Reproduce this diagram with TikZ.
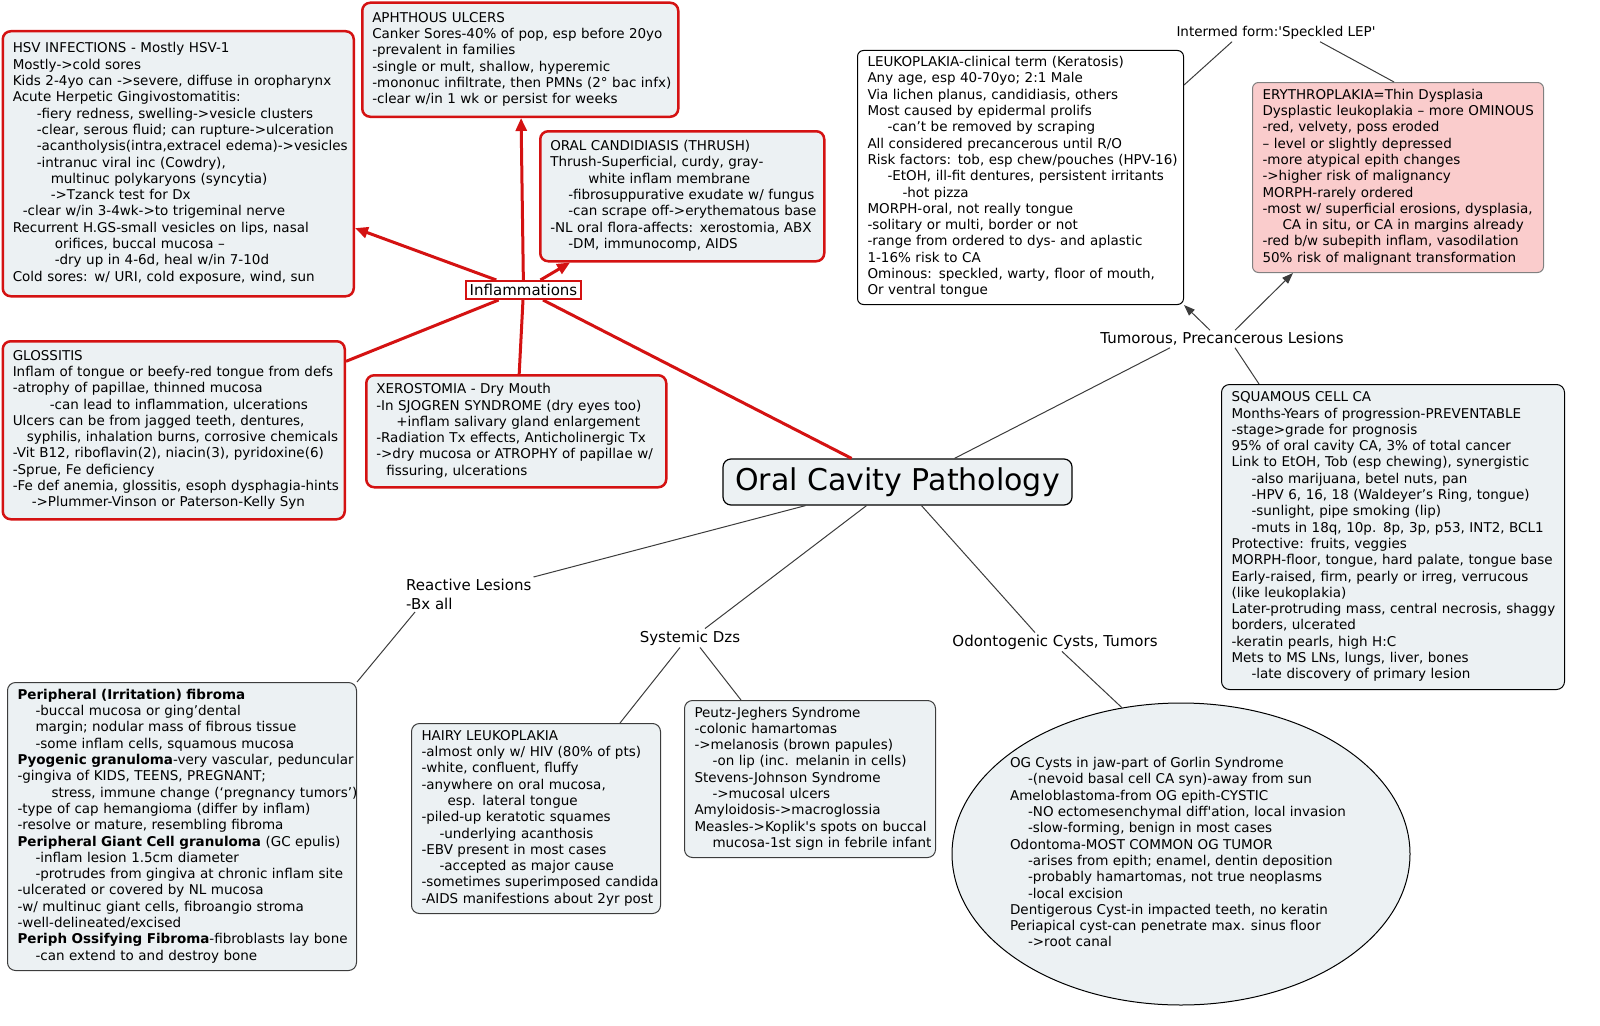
\documentclass[tikz,border=0pt]{standalone}
\usepackage{fontspec}
\setmainfont{DejaVu Sans}[Ligatures=TeXOff]
\usetikzlibrary{shapes.geometric,arrows.meta}

\definecolor{boxfill}{RGB}{236,241,243}
\definecolor{mapred}{RGB}{212,18,18}
\definecolor{pinkfill}{RGB}{250,204,204}
\definecolor{linegray}{RGB}{60,60,60}

\newcommand{\ind}[1]{\hspace*{#1pt}}
\newcommand{\boxlines}[1]{\begin{tabular}{@{}l@{}}#1\end{tabular}}

\begin{document}
\begin{tikzpicture}[x=1pt, y=-1pt,
            redbox/.style={draw=mapred, line width=2.5pt, fill=boxfill, rounded corners=8pt, anchor=north west, inner xsep=10pt, inner ysep=0pt, font=\fontsize{13.5}{16.3}\selectfont},
            greybox/.style={draw=linegray, line width=1pt, fill=boxfill, rounded corners=8pt, anchor=north west, inner xsep=10pt, inner ysep=0pt, font=\fontsize{13.5}{16.3}\selectfont},
            branch/.style={font=\fontsize{15}{19}\selectfont, inner sep=2pt, align=left},
            redline/.style={draw=mapred, line width=3pt},
            redarrow/.style={redline, -{Triangle[length=13pt,width=11pt]}},
            link/.style={draw=linegray, line width=1pt},
            linkarrow/.style={link, -{Triangle[length=11pt,width=8pt]}}
        ]
\useasboundingbox (0,0) rectangle (1600,1025);

% Centre of the map
            \node (oral) [draw=black, line width=1.2pt, fill=boxfill, rounded corners=8pt, minimum width=349, minimum height=46, inner sep=0pt, font=\fontsize{30}{36}\selectfont] at (897.5,482) {Oral Cavity Pathology};

% Inflammations branch (red)
            \node (inflam) [draw=mapred, line width=2pt, fill=white, minimum width=115, minimum height=18, inner xsep=2pt, inner ysep=0pt, font=\fontsize{15}{18}\selectfont] at (523.5,290) {Inflammations};

            \node (hsv) [redbox, text width=331, minimum height=265] at (1.5,30) {\boxlines{HSV INFECTIONS - Mostly HSV-1\\
Mostly->cold sores\\
Kids 2-4yo can ->severe, diffuse in oropharynx\\
Acute Herpetic Gingivostomatitis:\\
\ind{24}-fiery redness, swelling->vesicle clusters\\
\ind{24}-clear, serous fluid; can rupture->ulceration\\
\ind{24}-acantholysis(intra,extracel edema)->vesicles\\
\ind{24}-intranuc viral inc (Cowdry),\\
\ind{38}multinuc polykaryons (syncytia)\\
\ind{38}->Tzanck test for Dx\\
\ind{10}-clear w/in 3-4wk->to trigeminal nerve\\
Recurrent H.GS-small vesicles on lips, nasal\\
\ind{42}orifices, buccal mucosa –\\
\ind{42}-dry up in 4-6d, heal w/in 7-10d\\
Cold sores: w/ URI, cold exposure, wind, sun}};

            \node (aph) [redbox, text width=296, minimum height=114] at (361,1.5) {\boxlines{APHTHOUS ULCERS\\
Canker Sores-40\% of pop, esp before 20yo\\
-prevalent in families\\
-single or mult, shallow, hyperemic\\
-mononuc infiltrate, then PMNs (2° bac infx)\\
-clear w/in 1 wk or persist for weeks}};

            \node (cand) [redbox, text width=264, minimum height=130] at (539,130) {\boxlines{ORAL CANDIDIASIS (THRUSH)\\
Thrush-Superficial, curdy, gray-\\
\ind{38}white inflam membrane\\
\ind{18}-fibrosuppurative exudate w/ fungus\\
\ind{18}-can scrape off->erythematous base\\
-NL oral flora-affects: xerostomia, ABX\\
\ind{18}-DM, immunocomp, AIDS}};

            \node (gloss) [redbox, text width=322, minimum height=178] at (1.5,340) {\boxlines{GLOSSITIS\\
Inflam of tongue or beefy-red tongue from defs\\
-atrophy of papillae, thinned mucosa\\
\ind{37}-can lead to inflammation, ulcerations\\
Ulcers can be from jagged teeth, dentures,\\
\ind{14}syphilis, inhalation burns, corrosive chemicals\\
-Vit B12, riboflavin(2), niacin(3), pyridoxine(6)\\
-Sprue, Fe deficiency\\
-Fe def anemia, glossitis, esoph dysphagia-hints\\
\ind{19}->Plummer-Vinson or Paterson-Kelly Syn}};

            \node (xero) [redbox, text width=280, minimum height=112] at (365,374) {\boxlines{XEROSTOMIA - Dry Mouth\\
-In SJOGREN SYNDROME (dry eyes too)\\
\ind{20}+inflam salivary gland enlargement\\
-Radiation Tx effects, Anticholinergic Tx\\
->dry mucosa or ATROPHY of papillae w/\\
\ind{10}fissuring, ulcerations}};

% Tumorous branch
            \node (tumor) [branch] at (1222,339) {Tumorous, Precancerous Lesions};
            \node (inter) [branch, font=\fontsize{13.5}{16.3}\selectfont] at (1276,33) {Intermed form:'Speckled LEP'};

            \node (leuko) [greybox, fill=white, draw=black, rounded corners=6pt, text width=306, minimum height=254] at (857,50) {\boxlines{LEUKOPLAKIA-clinical term (Keratosis)\\
Any age, esp 40-70yo; 2:1 Male\\
Via lichen planus, candidiasis, others\\
Most caused by epidermal prolifs\\
\ind{20}-can’t be removed by scraping\\
All considered precancerous until R/O\\
Risk factors: tob, esp chew/pouches (HPV-16)\\
\ind{20}-EtOH, ill-fit dentures, persistent irritants\\
\ind{35}-hot pizza\\
MORPH-oral, not really tongue\\
-solitary or multi, border or not\\
-range from ordered to dys- and aplastic\\
1-16\% risk to CA\\
Ominous: speckled, warty, floor of mouth,\\
Or ventral tongue}};

            \node (ery) [greybox, fill=pinkfill, draw=gray, rounded corners=6pt, text width=271, minimum height=190] at (1252,82) {\boxlines{ERYTHROPLAKIA=Thin Dysplasia\\
Dysplastic leukoplakia – more OMINOUS\\
-red, velvety, poss eroded\\
– level or slightly depressed\\
-more atypical epith changes\\
->higher risk of malignancy\\
MORPH-rarely ordered\\
-most w/ superficial erosions, dysplasia,\\
\ind{20}CA in situ, or CA in margins already\\
-red b/w subepith inflam, vasodilation\\
50\% risk of malignant transformation}};

            \node (squam) [greybox, draw=black, text width=323, minimum height=305] at (1221,384) {\boxlines{SQUAMOUS CELL CA\\
Months-Years of progression-PREVENTABLE\\
-stage>grade for prognosis\\
95\% of oral cavity CA, 3\% of total cancer\\
Link to EtOH, Tob (esp chewing), synergistic\\
\ind{20}-also marijuana, betel nuts, pan\\
\ind{20}-HPV 6, 16, 18 (Waldeyer’s Ring, tongue)\\
\ind{20}-sunlight, pipe smoking (lip)\\
\ind{20}-muts in 18q, 10p. 8p, 3p, p53, INT2, BCL1\\
Protective: fruits, veggies\\
MORPH-floor, tongue, hard palate, tongue base\\
Early-raised, firm, pearly or irreg, verrucous\\
(like leukoplakia)\\
Later-protruding mass, central necrosis, shaggy\\
borders, ulcerated\\
-keratin pearls, high H:C\\
Mets to MS LNs, lungs, liver, bones\\
\ind{20}-late discovery of primary lesion}};

% Reactive branch
            \node (react) [branch, anchor=west] at (404,594.5) {Reactive Lesions\\-Bx all};

            \node (fib) [greybox, text width=329, minimum height=288] at (7,682) {\boxlines{\textbf{Peripheral (Irritation) fibroma}\\
\ind{18}-buccal mucosa or ging’dental\\
\ind{18}margin; nodular mass of fibrous tissue\\
\ind{18}-some inflam cells, squamous mucosa\\
\textbf{Pyogenic granuloma}-very vascular, peduncular\\
-gingiva of KIDS, TEENS, PREGNANT;\\
\ind{34}stress, immune change (‘pregnancy tumors’)\\
-type of cap hemangioma (differ by inflam)\\
-resolve or mature, resembling fibroma\\
\textbf{Peripheral Giant Cell granuloma} (GC epulis)\\
\ind{18}-inflam lesion 1.5cm diameter\\
\ind{18}-protrudes from gingiva at chronic inflam site\\
-ulcerated or covered by NL mucosa\\
-w/ multinuc giant cells, fibroangio stroma\\
-well-delineated/excised\\
\textbf{Periph Ossifying Fibroma}-fibroblasts lay bone\\
\ind{18}-can extend to and destroy bone}};

% Systemic branch
            \node (sys) [branch] at (690,638) {Systemic Dzs};

            \node (hairy) [greybox, text width=229, minimum height=190] at (411,723) {\boxlines{HAIRY LEUKOPLAKIA\\
-almost only w/ HIV (80\% of pts)\\
-white, confluent, fluffy\\
-anywhere on oral mucosa,\\
\ind{26}esp. lateral tongue\\
-piled-up keratotic squames\\
\ind{18}-underlying acanthosis\\
-EBV present in most cases\\
\ind{18}-accepted as major cause\\
-sometimes superimposed candida\\
-AIDS manifestions about 2yr post}};

            \node (peutz) [greybox, text width=231, minimum height=157] at (684,700) {\boxlines{Peutz-Jeghers Syndrome\\
-colonic hamartomas\\
->melanosis (brown papules)\\
\ind{18}-on lip (inc. melanin in cells)\\
Stevens-Johnson Syndrome\\
\ind{18}->mucosal ulcers\\
Amyloidosis->macroglossia\\
Measles->Koplik's spots on buccal\\
\ind{18}mucosa-1st sign in febrile infant}};

% Odontogenic branch
            \node (odon) [branch] at (1055,642) {Odontogenic Cysts, Tumors};

            \node (og) [ellipse, draw=black, line width=1pt, fill=boxfill, minimum width=458, minimum height=302, inner sep=0pt] at (1181,854) {};
            \node (ogtext) [inner sep=0pt, font=\fontsize{13.5}{16.3}\selectfont] at ([xshift=-3]og.center) {\boxlines{OG Cysts in jaw-part of Gorlin Syndrome\\
\ind{18}-(nevoid basal cell CA syn)-away from sun\\
Ameloblastoma-from OG epith-CYSTIC\\
\ind{18}-NO ectomesenchymal diff'ation, local invasion\\
\ind{18}-slow-forming, benign in most cases\\
Odontoma-MOST COMMON OG TUMOR\\
\ind{18}-arises from epith; enamel, dentin deposition\\
\ind{18}-probably hamartomas, not true neoplasms\\
\ind{18}-local excision\\
Dentigerous Cyst-in impacted teeth, no keratin\\
Periapical cyst-can penetrate max. sinus floor\\
\ind{18}->root canal}};

% Red connectors
            \draw [redline] (inflam) -- (oral);
            \draw [redarrow] (inflam) -- (hsv);
            \draw [redarrow] (inflam) -- (aph);
            \draw [redarrow] (inflam) -- (cand);
            \draw [redline] (inflam) -- (gloss);
            \draw [redline] (inflam) -- (xero);

% Black connectors
            \draw [link] ([xshift=57]oral.north) -- ([xshift=-52]tumor.south);
            \draw [linkarrow] ([xshift=-12]tumor.north) -- (leuko.south east);
            \draw [linkarrow] ([xshift=13]tumor.north) -- ([xshift=-105]ery.south);
            \draw [link] ([xshift=13]tumor.south) -- ([xshift=-134]squam.north);
            \draw [link] ([yshift=-35]leuko.north east) -- ([xshift=-44]inter.south);
            \draw [link] ([xshift=44]inter.south) -- ([xshift=-4]ery.north);

            \draw [link] ([xshift=-92]oral.south) -- (react.north east);
            \draw [link] ([xshift=11]react.south west) -- (fib.north east);
            \draw [link] ([xshift=-31]oral.south) -- ([xshift=15]sys.north);
            \draw [link] ([xshift=-10]sys.south) -- ([xshift=84]hairy.north);
            \draw [link] ([xshift=10]sys.south) -- ([xshift=-69]peutz.north);
            \draw [link] ([xshift=24]oral.south) -- ([xshift=-20]odon.north);
            \draw [link] ([xshift=7]odon.south) -- (og.112);

        \end{tikzpicture}
\end{document}
